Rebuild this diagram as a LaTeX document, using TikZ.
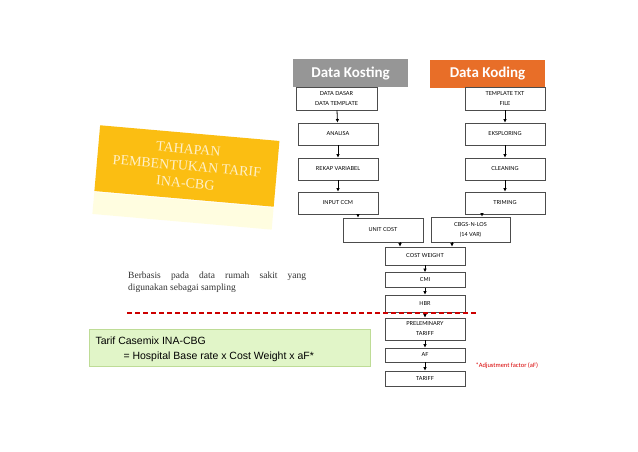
\documentclass[tikz,border=0pt]{standalone}
\usepackage{fontspec}
\setmainfont{Liberation Serif}
\newfontfamily\carl{Carlito}
\newfontfamily\arl{Liberation Sans}
\newfontfamily\lat{Lato}
\usetikzlibrary{arrows.meta}
\begin{document}
\begin{tikzpicture}[x=1pt,y=-1pt,
  bx/.style={draw=black!70,line width=0.8pt,fill=white,minimum width=80pt,inner sep=0pt,font=\lat\fontsize{5.5}{10}\selectfont,align=center},
  hd/.style={minimum width=115pt,minimum height=28pt,inner sep=0pt,font=\carl\bfseries\fontsize{15}{15}\selectfont,text=white},
  arr/.style={-{Latex[length=3.5pt,width=3.5pt]},line width=0.8pt}]
\useasboundingbox (0,0) rectangle (638,451);
\fill[white] (0,0) rectangle (638,451);
% banner
\begin{scope}[rotate around={-5:(187,165)},transform shape]
\fill[yellow!40!white,opacity=0.3] (97,200) rectangle (277,222);
\node[fill={rgb,255:red,251;green,190;blue,18},minimum width=180pt,minimum height=66pt,inner sep=0pt,font=\fontsize{14}{17}\selectfont,text={rgb,255:red,255;green,240;blue,200},align=center] (ban) at (187,166) {TAHAPAN\\PEMBENTUKAN TARIF\\INA-CBG};
\end{scope}
\node[hd,fill={rgb,255:red,150;green,150;blue,150}] (hk) at (350.5,73) {Data Kosting};
\node[hd,fill={rgb,255:red,232;green,110;blue,40}] (hc) at (487.5,74) {Data Koding};
\node[bx,minimum height=23pt,minimum width=81pt] (dd) at (336.5,98.5) {DATA DASAR\\DATA TEMPLATE};
\node[bx,minimum height=22pt] (an) at (338,134) {ANALISA};
\node[bx,minimum height=22pt] (rv) at (338,169) {REKAP VARIABEL};
\node[bx,minimum height=22pt] (ic) at (338,203) {INPUT CCM};
\node[bx,minimum height=23pt] (tf) at (505,98.5) {TEMPLATE TXT\\FILE};
\node[bx,minimum height=22pt] (ek) at (505,134) {EKSPLORING};
\node[bx,minimum height=22pt] (cl) at (505,169) {CLEANING};
\node[bx,minimum height=22pt] (tr) at (505,203) {TRIMING};
\node[bx,minimum height=24pt] (uc) at (383,230) {UNIT COST};
\node[bx,minimum height=25pt,minimum width=79pt] (cb) at (470.5,229.5) {CBGS-N-LOS\\(14 VAR)};
\node[bx,minimum height=18pt] (cw) at (425,256) {COST WEIGHT};
\node[bx,minimum height=15pt] (cmi) at (425,280) {CMI};
\node[bx,minimum height=17pt] (hbr) at (425,303.5) {HBR};
\node[bx,minimum height=22pt] (pt) at (425,329) {PRELEMINARY\\TARIFF};
\node[bx,minimum height=14pt] (af) at (425,355) {AF};
\node[bx,minimum height=15pt] (ta) at (425,378.5) {TARIFF};
\draw[arr] (dd) -- (an); \draw[arr] (an) -- (rv); \draw[arr] (rv) -- (ic);
\draw[arr] (tf) -- (ek); \draw[arr] (ek) -- (cl); \draw[arr] (cl) -- (tr);
\draw[arr] ([xshift=20pt]ic.south) -- ([xshift=20pt]ic.south |- uc.north);
\draw[arr] ([xshift=-23pt]tr.south) -- ([xshift=-23pt]tr.south |- cb.north);
\draw[arr] ([xshift=-25pt]cw.north |- uc.south) -- ([xshift=-25pt]cw.north);
\draw[arr] ([xshift=27pt]cw.north |- cb.south) -- ([xshift=27pt]cw.north);
\draw[arr] (cw) -- (cmi); \draw[arr] (cmi) -- (hbr); \draw[arr] (hbr) -- (pt);
\draw[arr] (pt) -- (af); \draw[arr] (af) -- (ta);
\coordinate (d1) at (127,313); \coordinate (d2) at (477,313);
\draw[red!80!black,line width=1.2pt,dash pattern=on 5pt off 3pt] (d1) -- (d2);
\node[draw={rgb,255:red,190;green,220;blue,150},fill={rgb,255:red,225;green,245;blue,200},minimum width=281pt,minimum height=37pt,inner sep=0pt] (gb) at (230,347.5) {};
\node[anchor=west,font=\arl\fontsize{10.5}{12}\selectfont] (f1) at (92,341) {Tarif Casemix INA-CBG};
\node[anchor=west,font=\arl\fontsize{10.5}{12}\selectfont] (f2) at (120,357) {= Hospital Base rate x Cost Weight x aF*};
\node[anchor=west,font=\carl\fontsize{6.5}{7}\selectfont,text=red!85!black] (adj) at (472,366) {*Adjustment factor (aF)};
\node[anchor=north west,align=left,font=\fontsize{9.5}{11.5}\selectfont,text=black!80,inner sep=0pt] (bb) at (128,272) {\makebox[178pt][s]{Berbasis pada data rumah sakit yang}\\digunakan sebagai sampling};
\end{tikzpicture}
\end{document}
